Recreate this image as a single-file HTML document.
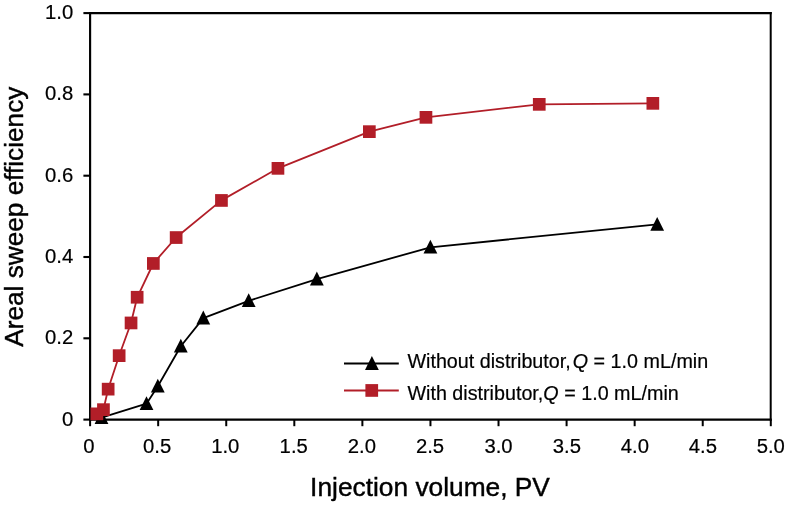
<!DOCTYPE html>
<html lang="en"><head><meta charset="utf-8"><title>Areal sweep efficiency vs injection volume</title>
<style>html,body{margin:0;padding:0;background:#fff}body{width:785px;height:505px;overflow:hidden}svg{display:block}text{font-family:"Liberation Sans",Arial,sans-serif;fill:#000;stroke:#000;stroke-width:0.2px}.t{stroke-width:0.4px}</style></head><body>
<svg width="785" height="505" viewBox="0 0 785 505">
<rect width="785" height="505" fill="#fff"/>
<g stroke="#000" fill="none" stroke-linecap="butt">
<line x1="89.0" y1="13.1" x2="771.7" y2="13.1" stroke-width="2.1"/>
<line x1="89.0" y1="419.6" x2="771.7" y2="419.6" stroke-width="2.1"/>
<line x1="90.1" y1="12.0" x2="90.1" y2="420.7" stroke-width="2.15"/>
<line x1="770.7" y1="12.1" x2="770.7" y2="420.6" stroke-width="2.0"/>
<line x1="90.10" y1="419.6" x2="90.10" y2="426.2" stroke-width="2.0"/>
<line x1="158.17" y1="419.6" x2="158.17" y2="426.2" stroke-width="2.0"/>
<line x1="226.24" y1="419.6" x2="226.24" y2="426.2" stroke-width="2.0"/>
<line x1="294.31" y1="419.6" x2="294.31" y2="426.2" stroke-width="2.0"/>
<line x1="362.38" y1="419.6" x2="362.38" y2="426.2" stroke-width="2.0"/>
<line x1="430.45" y1="419.6" x2="430.45" y2="426.2" stroke-width="2.0"/>
<line x1="498.52" y1="419.6" x2="498.52" y2="426.2" stroke-width="2.0"/>
<line x1="566.59" y1="419.6" x2="566.59" y2="426.2" stroke-width="2.0"/>
<line x1="634.66" y1="419.6" x2="634.66" y2="426.2" stroke-width="2.0"/>
<line x1="702.73" y1="419.6" x2="702.73" y2="426.2" stroke-width="2.0"/>
<line x1="770.80" y1="419.6" x2="770.80" y2="426.2" stroke-width="2.0"/>
<line x1="83.4" y1="419.60" x2="90.0" y2="419.60" stroke-width="2.1"/>
<line x1="83.4" y1="338.30" x2="90.0" y2="338.30" stroke-width="2.1"/>
<line x1="83.4" y1="257.00" x2="90.0" y2="257.00" stroke-width="2.1"/>
<line x1="83.4" y1="175.70" x2="90.0" y2="175.70" stroke-width="2.1"/>
<line x1="83.4" y1="94.40" x2="90.0" y2="94.40" stroke-width="2.1"/>
<line x1="83.4" y1="13.10" x2="90.0" y2="13.10" stroke-width="2.1"/>
</g>
<text transform="translate(89.0 453.3) scale(1.04 1)" font-size="19.5" text-anchor="middle">0</text>
<text transform="translate(157.1 453.3) scale(1.04 1)" font-size="19.5" text-anchor="middle">0.5</text>
<text transform="translate(225.3 453.3) scale(1.04 1)" font-size="19.5" text-anchor="middle">1.0</text>
<text transform="translate(293.7 453.3) scale(1.04 1)" font-size="19.5" text-anchor="middle">1.5</text>
<text transform="translate(361.9 453.3) scale(1.04 1)" font-size="19.5" text-anchor="middle">2.0</text>
<text transform="translate(430.0 453.3) scale(1.04 1)" font-size="19.5" text-anchor="middle">2.5</text>
<text transform="translate(498.5 453.3) scale(1.04 1)" font-size="19.5" text-anchor="middle">3.0</text>
<text transform="translate(566.9 453.3) scale(1.04 1)" font-size="19.5" text-anchor="middle">3.5</text>
<text transform="translate(634.9 453.3) scale(1.04 1)" font-size="19.5" text-anchor="middle">4.0</text>
<text transform="translate(702.9 453.3) scale(1.04 1)" font-size="19.5" text-anchor="middle">4.5</text>
<text transform="translate(770.8 453.3) scale(1.04 1)" font-size="19.5" text-anchor="middle">5.0</text>
<text transform="translate(73.2 425.6) scale(1.04 1)" font-size="19.5" text-anchor="end">0</text>
<text transform="translate(73.2 344.3) scale(1.04 1)" font-size="19.5" text-anchor="end">0.2</text>
<text transform="translate(73.2 263.0) scale(1.04 1)" font-size="19.5" text-anchor="end">0.4</text>
<text transform="translate(73.2 181.7) scale(1.04 1)" font-size="19.5" text-anchor="end">0.6</text>
<text transform="translate(73.2 100.4) scale(1.04 1)" font-size="19.5" text-anchor="end">0.8</text>
<text transform="translate(73.2 19.1) scale(1.04 1)" font-size="19.5" text-anchor="end">1.0</text>
<text class="t" transform="translate(430.0 495.5) scale(1.024 1)" font-size="25.7" text-anchor="middle">Injection volume, PV</text>
<text class="t" transform="translate(22.5 216.7) rotate(-90) scale(1.032 1.045)" font-size="25.4" text-anchor="middle">Areal sweep efficiency</text>
<polyline points="101.5,417.6 146.5,403.7 157.8,386.2 180.8,346.2 203.3,318.1 248.7,300.8 316.9,279.1 430.4,247.3 657.2,224.4" fill="none" stroke="#000" stroke-width="1.8" stroke-linejoin="round"/>
<polygon points="101.50,410.10 108.40,423.90 94.60,423.90" fill="#000"/>
<polygon points="146.50,396.20 153.40,410.00 139.60,410.00" fill="#000"/>
<polygon points="157.80,378.70 164.70,392.50 150.90,392.50" fill="#000"/>
<polygon points="180.80,338.70 187.70,352.50 173.90,352.50" fill="#000"/>
<polygon points="203.30,310.60 210.20,324.40 196.40,324.40" fill="#000"/>
<polygon points="248.70,293.25 255.60,307.05 241.80,307.05" fill="#000"/>
<polygon points="316.85,271.60 323.75,285.40 309.95,285.40" fill="#000"/>
<polygon points="430.40,239.80 437.30,253.60 423.50,253.60" fill="#000"/>
<polygon points="657.20,216.90 664.10,230.70 650.30,230.70" fill="#000"/>
<polyline points="96.8,413.9 103.4,409.7 108.1,389.2 119.1,355.7 131.0,323.0 137.2,297.3 153.3,263.5 176.1,237.5 221.4,200.4 278.0,168.3 369.4,131.7 426.0,117.3 539.2,104.3 652.9,103.3" fill="none" stroke="#B21E28" stroke-width="1.8" stroke-linejoin="round"/>
<rect x="90.5" y="407.5" width="12.7" height="12.7" fill="#B21E28"/>
<rect x="97.1" y="403.3" width="12.7" height="12.7" fill="#B21E28"/>
<rect x="101.8" y="382.8" width="12.7" height="12.7" fill="#B21E28"/>
<rect x="112.8" y="349.3" width="12.7" height="12.7" fill="#B21E28"/>
<rect x="124.7" y="316.6" width="12.7" height="12.7" fill="#B21E28"/>
<rect x="130.8" y="290.9" width="12.7" height="12.7" fill="#B21E28"/>
<rect x="147.0" y="257.1" width="12.7" height="12.7" fill="#B21E28"/>
<rect x="169.8" y="231.2" width="12.7" height="12.7" fill="#B21E28"/>
<rect x="215.1" y="194.1" width="12.7" height="12.7" fill="#B21E28"/>
<rect x="271.6" y="162.0" width="12.7" height="12.7" fill="#B21E28"/>
<rect x="363.0" y="125.3" width="12.7" height="12.7" fill="#B21E28"/>
<rect x="419.6" y="111.0" width="12.7" height="12.7" fill="#B21E28"/>
<rect x="532.9" y="98.0" width="12.7" height="12.7" fill="#B21E28"/>
<rect x="646.5" y="97.0" width="12.7" height="12.7" fill="#B21E28"/>
<line x1="344" y1="363.6" x2="398.8" y2="363.6" stroke="#000" stroke-width="2"/>
<polygon points="371.90,356.10 378.80,369.90 365.00,369.90" fill="#000"/>
<line x1="344" y1="390.4" x2="398.8" y2="390.4" stroke="#B21E28" stroke-width="2"/>
<rect x="365.4" y="384.1" width="12.7" height="12.7" fill="#B21E28"/>
<text transform="translate(407.4 368.2) scale(1.012 1)" font-size="19.5">Without distributor,<tspan dx="2" font-style="italic">Q</tspan> = 1.0 mL/min</text>
<text transform="translate(407.4 399.9) scale(1.012 1)" font-size="19.5">With distributor,<tspan dx="0" font-style="italic">Q</tspan> = 1.0 mL/min</text>
</svg></body></html>
